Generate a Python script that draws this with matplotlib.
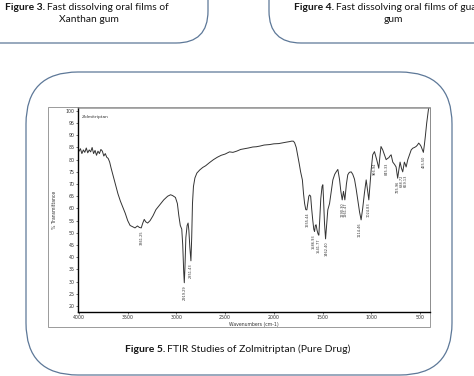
import numpy as np
import matplotlib
matplotlib.use('Agg')
from matplotlib import pyplot as plt
from matplotlib.patches import FancyBboxPatch, Rectangle

# FTIR spectrum of Zolmitriptan
wavenumbers = [4000, 3985, 3970, 3955, 3940, 3925, 3910, 3895, 3880, 3865,
               3850, 3835, 3820, 3805, 3790, 3775, 3760, 3745, 3730, 3715,
               3700, 3685, 3670, 3650, 3630, 3600, 3575, 3550, 3525, 3500,
               3475, 3450, 3425, 3400, 3380, 3361, 3345, 3330, 3315, 3295,
               3270, 3240, 3210, 3170, 3130, 3090, 3060, 3040, 3010, 2990,
               2975, 2960, 2945, 2935, 2925, 2919, 2912, 2903, 2890, 2880,
               2872, 2862, 2851, 2843, 2835, 2825, 2810, 2790, 2760, 2730,
               2700, 2660, 2620, 2580, 2540, 2500, 2455, 2420, 2381, 2340,
               2300, 2260, 2216, 2180, 2140, 2100, 2043, 2000, 1950, 1900,
               1870, 1840, 1818, 1800, 1787, 1770, 1756, 1740, 1725, 1707,
               1695, 1684, 1672, 1661, 1650, 1641, 1633, 1622, 1612, 1600,
               1590, 1582, 1574, 1566, 1556, 1546, 1538, 1528, 1518, 1505,
               1497, 1490, 1480, 1469, 1460, 1446, 1428, 1410, 1394, 1375,
               1360, 1343, 1326, 1312, 1298, 1285, 1271, 1255, 1241, 1225,
               1206, 1190, 1172, 1155, 1138, 1120, 1104, 1088, 1070, 1052,
               1040, 1025, 1012, 1001, 985, 967, 955, 944, 923, 912,
               900, 882, 865, 847, 833, 820, 808, 796, 779, 760,
               745, 736, 729, 718, 704, 690, 677, 668, 660, 650,
               642, 625, 608, 590, 574, 557, 540, 526, 513, 500,
               489, 476, 465, 455, 445, 431, 420, 410]
transmittance = [83.5, 84.5, 82.5, 84.0, 83.0, 84.8, 82.8, 84.0, 83.2, 85.0,
                 82.5, 83.8, 81.8, 83.5, 82.5, 84.2, 83.5, 81.5, 82.5, 81.0,
                 80.5, 79.0, 76.5, 73.5, 70.5, 66.0, 63.0, 60.5, 58.0, 55.0,
                 53.0, 52.5, 52.0, 52.8, 52.2, 52.0, 54.0, 55.5, 54.5, 54.0,
                 55.0, 57.0, 59.5, 61.5, 63.5, 65.0, 65.6, 65.3, 64.5, 62.0,
                 57.0, 53.0, 51.5, 45.0, 34.0, 29.5, 36.0, 48.0, 53.0, 54.0,
                 51.0, 44.0, 38.5, 48.0, 62.0, 69.0, 72.5, 74.5, 75.8, 76.8,
                 77.5, 78.8, 80.0, 81.0, 81.8, 82.3, 83.2, 83.0, 83.5, 84.2,
                 84.5, 84.8, 85.2, 85.3, 85.6, 86.0, 86.2, 86.5, 86.6, 87.0,
                 87.2, 87.4, 87.6, 87.6, 87.0, 85.0, 82.0, 78.5, 75.0, 71.7,
                 66.0, 62.0, 59.5, 59.4, 62.5, 65.0, 65.5, 65.0, 60.0, 55.0,
                 51.5, 50.5, 53.0, 53.3, 51.0, 49.5, 49.0, 56.0, 64.0, 69.0,
                 69.7, 64.0, 54.0, 47.5, 52.0, 59.4, 62.0, 67.0, 71.7, 74.0,
                 75.0, 76.0, 72.0, 67.0, 63.5, 67.0, 63.5, 70.0, 73.8, 74.8,
                 75.0, 74.0, 72.0, 68.0, 63.5, 58.5, 55.3, 60.0, 66.3, 71.7,
                 68.0, 63.5, 70.0, 75.8, 82.0, 83.3, 81.5, 80.0, 76.5, 81.0,
                 85.4, 84.0, 82.0, 80.0, 80.5, 80.8, 81.5, 82.0, 79.0, 78.0,
                 77.0, 74.5, 72.4, 75.5, 79.0, 76.5, 75.0, 77.0, 79.0, 78.0,
                 77.0, 80.0, 82.0, 84.0, 84.7, 85.0, 85.4, 86.0, 86.8, 86.2,
                 85.5, 84.2, 83.0, 86.0, 89.5, 95.0, 98.5, 101.5]

# peak annotations printed under the bands
peak_labels = [3361.25, 2919.29, 2851.43, 1655.44, 1586.93, 1541.77, 1462.40,
               1290.30, 1261.47, 1114.46, 1024.83, 966.94, 845.33, 725.96,
               688.72, 669.13, 465.50]

y_ticks = list(range(20, 101, 5))
x_ticks = [4000, 3500, 3000, 2500, 2000, 1500, 1000, 500]

W, H = 474, 376
fig = plt.figure(figsize=(W / 100, H / 100), dpi=100)

# page layer in pixel coordinates
page = fig.add_axes([0, 0, 1, 1])
page.set_xlim(0, W)
page.set_ylim(H, 0)
page.axis('off')

box_col = '#5d7898'
cap_font = 'Lato'
cap_col = '#151515'

# figure 3 / figure 4 caption boxes (cut by the page edge)
page.add_patch(FancyBboxPatch((-60, -80), 268, 123,
                              boxstyle='round,pad=0,rounding_size=32',
                              fill=False, ec=box_col, lw=0.9))
page.add_patch(FancyBboxPatch((269, -80), 300, 123,
                              boxstyle='round,pad=0,rounding_size=32',
                              fill=False, ec=box_col, lw=0.9))
page.text(45, 7, 'Figure 3.', fontsize=7.4, fontweight='bold',
          family=cap_font, ha='right', va='center', color=cap_col)
page.text(47, 7, 'Fast dissolving oral films of', fontsize=7.4,
          family=cap_font, ha='left', va='center', color=cap_col)
page.text(89, 20, 'Xanthan gum', fontsize=7.4, family=cap_font,
          ha='center', va='center', color=cap_col)
page.text(334, 7, 'Figure 4.', fontsize=7.4, fontweight='bold',
          family=cap_font, ha='right', va='center', color=cap_col)
page.text(336, 7, 'Fast dissolving oral films of guar', fontsize=7.4,
          family=cap_font, ha='left', va='center', color=cap_col)
page.text(393, 20, 'gum', fontsize=7.4, family=cap_font,
          ha='center', va='center', color=cap_col)

# figure 5 box
page.add_patch(FancyBboxPatch((26, 72), 426, 303,
                              boxstyle='round,pad=0,rounding_size=52',
                              fill=False, ec=box_col, lw=0.9))
page.text(165, 349, 'Figure 5.', fontsize=7.5, fontweight='bold',
          family=cap_font, ha='right', va='center', color=cap_col)
page.text(167, 349, 'FTIR Studies of Zolmitriptan (Pure Drug)', fontsize=7.5,
          family=cap_font, ha='left', va='center', color=cap_col)

# scanned picture frame
page.add_patch(Rectangle((48, 107), 382, 220, fill=False, ec='#8a8a8a', lw=0.6))

# spectrum axes
ax = fig.add_axes([78 / W, 1 - 312 / H, (430 - 78) / W, (312 - 108) / H])
ax.plot(wavenumbers, transmittance, color='#333333', lw=0.7)
ax.set_xlim(4010, 397)
ax.set_ylim(17.5, 101.2)
ax.set_yticks(y_ticks)
ax.set_xticks(x_ticks)
ax.tick_params(axis='both', labelsize=3.4, length=1.5, width=0.5, pad=1,
               colors='#333333')
ax.spines['left'].set_linewidth(1.0)
ax.spines['bottom'].set_linewidth(1.0)
ax.spines['top'].set_linewidth(0.5)
ax.spines['right'].set_linewidth(0.5)
ax.spines['top'].set_color('#8a8a8a')
ax.spines['right'].set_color('#8a8a8a')

ax.set_ylabel('% Transmittance', fontsize=3.3, color='#333333')
ax.yaxis.set_label_coords(-0.06, 0.5)
ax.set_xlabel('Wavenumbers (cm-1)', fontsize=3.3, color='#333333')
ax.xaxis.set_label_coords(0.5, -0.047)
ax.text(0.01, 0.955, 'Zolmitriptan', fontsize=3.2, transform=ax.transAxes,
        ha='left', va='center', color='#333333')

wn = np.array(wavenumbers)
tr = np.array(transmittance)
prev = None
for p in peak_labels:
    near = np.abs(wn - p) < 30
    y_min = tr[near].min() if near.any() else np.interp(p, wn[::-1], tr[::-1])
    # nudge a label sideways when it sits right next to the previous one
    dx = 1.6 if prev is not None and prev - p < 25 else 0
    ax.annotate('%.2f' % p, xy=(p, y_min - 1.2), xytext=(dx, 0),
                textcoords='offset points', rotation=90, fontsize=2.5,
                ha='center', va='top', color='#333333')
    prev = p

fig.savefig('out.png', dpi=100)
